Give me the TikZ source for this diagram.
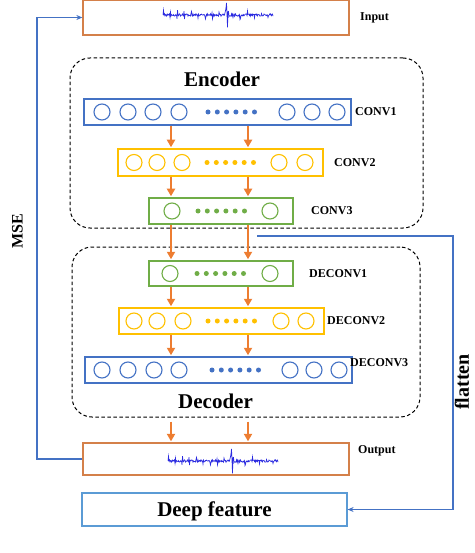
\documentclass[tikz,border=0pt]{standalone}
\usepackage{fontspec}
\setmainfont{Liberation Serif}
\usetikzlibrary{arrows.meta}
\definecolor{netblue}{HTML}{4472C4}
\definecolor{netorange}{HTML}{ED7D31}
\definecolor{netyellow}{HTML}{FFC000}
\definecolor{netgreen}{HTML}{70AD47}
\definecolor{ioorange}{HTML}{D4804A}
\definecolor{featblue}{HTML}{5B9BD5}
\definecolor{sigblue}{HTML}{2B2BE0}
\newcommand\dotrow[3]{\foreach \k in {0,...,5} \fill[#1] ({#2+9.3*\k},#3) circle (2.5pt);}
\newcommand\signal[2]{\pgfmathsetseed{5}
  \draw[sigblue,line width=0.7pt] plot[domain=0:110,samples=221]
    ({#1+\x},{#2+(1.2+4*(mod(\x,7)<0.6)+13*exp(-(\x-64)^2/2))*rand});}

\begin{document}
\begin{tikzpicture}[x=1pt,y=-1pt,
  layer/.style={draw=#1,line width=1.5pt,inner sep=0pt},
  unit/.style={draw=#1,line width=1.1pt},
  flow/.style={draw=netorange,line width=2pt,shorten >=1pt,-{Triangle[length=7.5pt,width=8pt]}},
  link/.style={draw=netblue,line width=1.3pt},
  tag/.style={font=\bfseries\fontsize{12}{14}\selectfont,anchor=west,inner sep=0pt},
  title/.style={font=\bfseries\fontsize{21}{24}\selectfont,inner sep=0pt},
  group/.style={draw,dash pattern=on 3.5pt off 2.5pt,rounded corners=20pt,line width=1pt,inner sep=0pt}]
\useasboundingbox (0,0) rectangle (474,553);

% signal boxes
\node[draw=ioorange,line width=1.3pt,minimum width=266,minimum height=35] (input) at (216,17.5) {};
\node[tag] (inputlbl) at (360,18) {Input};
\signal{163}{15}
\node[draw=ioorange,line width=1.3pt,minimum width=266,minimum height=32] (output) at (216,459) {};
\node[tag] (outputlbl) at (358,450.5) {Output};
\signal{168}{461}
\node[draw=featblue,line width=1.2pt,minimum width=265,minimum height=33,text depth=0pt,
  font=\bfseries\fontsize{21}{24}\selectfont] (deep) at (214.5,509.5) {Deep feature};

% encoder / decoder groups
\node[group,minimum width=353,minimum height=170] (enc) at (246.5,143) {};
\node[title] (enctitle) at (222,79) {Encoder};
\node[group,minimum width=348,minimum height=170] (dec) at (246,332) {};
\node[title] (dectitle) at (215.5,401.5) {Decoder};

% layers
\node[layer=netblue,minimum width=267,minimum height=26] (conv1) at (217.5,112) {};
\foreach \cx in {102,128,153,179,287,312,337} \draw[unit=netblue] (\cx,112) circle (8pt);
\dotrow{netblue}{208}{112}
\node[tag] (conv1lbl) at (355,112) {CONV1};

\node[layer=netyellow,minimum width=205,minimum height=27] (conv2) at (220.5,162.5) {};
\foreach \cx in {134,157,182,279,305} \draw[unit=netyellow] (\cx,162.5) circle (8pt);
\dotrow{netyellow}{207}{162.5}
\node[tag] (conv2lbl) at (334,162.5) {CONV2};

\node[layer=netgreen,minimum width=144,minimum height=26] (conv3) at (221,211) {};
\foreach \cx in {172,270} \draw[unit=netgreen] (\cx,211) circle (8pt);
\dotrow{netgreen}{198}{211}
\node[tag] (conv3lbl) at (311,211) {CONV3};

\node[layer=netgreen,minimum width=144,minimum height=25] (deconv1) at (221,273.5) {};
\foreach \cx in {170,270} \draw[unit=netgreen] (\cx,273.5) circle (8pt);
\dotrow{netgreen}{197}{273.5}
\node[tag] (deconv1lbl) at (309,273.5) {DECONV1};

\node[layer=netyellow,minimum width=205,minimum height=26] (deconv2) at (221.5,321) {};
\foreach \cx in {134,157,183,281,306} \draw[unit=netyellow] (\cx,321) circle (8pt);
\dotrow{netyellow}{208}{321}
\node[tag] (deconv2lbl) at (327,321) {DECONV2};

\node[layer=netblue,minimum width=267,minimum height=26] (deconv3) at (218.5,370) {};
\foreach \cx in {102,128,154,179,290,314,339} \draw[unit=netblue] (\cx,370) circle (8pt);
\dotrow{netblue}{212}{370}
\node[tag] (deconv3lbl) at (350,363) {DECONV3};

% data flow
\coordinate (xl) at (171,0);
\coordinate (xr) at (248,0);
\foreach \a/\b in {conv1/conv2,conv2/conv3,conv3/deconv1,deconv1/deconv2,deconv2/deconv3}{
  \draw[flow] (\a.south -| xl) -- (\b.north -| xl);
  \draw[flow] (\a.south -| xr) -- (\b.north -| xr);
}
\draw[flow,shorten <=4pt] (dec.south -| xl) -- (output.north -| xl);
\draw[flow,shorten <=4pt] (dec.south -| xr) -- (output.north -| xr);

% MSE loop
\coordinate (msex) at (37,0);
\draw[link,-{Stealth[length=6pt,width=5pt]}] (output.west) -- (output.west -| msex)
  -- (input.west -| msex) -- (input.west);
\node[font=\bfseries\fontsize{16}{18}\selectfont,rotate=90] (mse) at (17.5,231) {MSE};

% flatten
\coordinate (flat) at (257,236);
\coordinate (flatx) at (453,0);
\draw[link,-{Stealth[length=6pt,width=5pt]}] (flat) -- (flat -| flatx)
  -- (deep.east -| flatx) -- (deep.east);
\node[font=\bfseries\fontsize{20}{22}\selectfont,rotate=90] (flatlbl) at (462,382) {flatten};
\end{tikzpicture}
\end{document}
